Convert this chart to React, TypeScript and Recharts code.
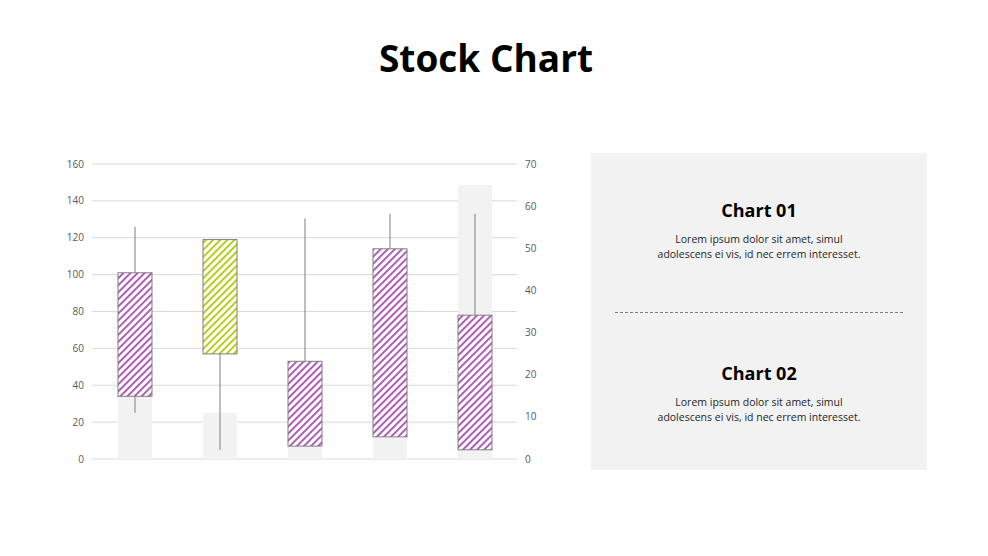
import { ComposedChart, Bar, XAxis, YAxis, CartesianGrid } from "recharts";

const days = ["1", "2", "3", "4", "5"];
const volume = [15, 11, 3, 5, 65];
const open = [101, 57, 53, 114, 78];
const high = [126, 119, 130.5, 133, 133];
const low = [25, 5, 7, 12, 5];
const close = [34, 119, 7, 12, 5];

const leftTicks = [0, 20, 40, 60, 80, 100, 120, 140, 160];
const rightTicks = [0, 10, 20, 30, 40, 50, 60, 70];

const chartData = days.map((day, i) => ({
  day,
  volume: volume[i],
  open: open[i],
  high: high[i],
  low: low[i],
  close: close[i],
  range: [low[i], high[i]],
}));

const Candle = (props: any) => {
  const { x, y, width, height, payload } = props;
  const { open, close, high, low } = payload;
  const toY = (v: number) => y + ((high - v) / (high - low)) * height;
  const cx = x + width / 2;
  const top = toY(Math.max(open, close));
  const bottom = toY(Math.min(open, close));
  const up = close >= open;
  return (
    <g>
      <line x1={cx} x2={cx} y1={y} y2={y + height} stroke="#7f7f7f" strokeWidth={1} />
      <rect x={x} y={top} width={width} height={bottom - top} fill="#fff" />
      <rect
        x={x}
        y={top}
        width={width}
        height={bottom - top}
        fill={up ? "url(#hatchUp)" : "url(#hatchDown)"}
        stroke="#7f7f7f"
        strokeWidth={1}
      />
    </g>
  );
};

const tickStyle = { fill: "#595959", fontSize: 10, fontFamily: "'Open Sans', sans-serif" };

const App = () => {
  return (
    <div style={{ position: "absolute", left: 0, top: 0, width: 988, height: 556, background: "#fff", fontFamily: "'Open Sans', sans-serif" }}>
      <div style={{ position: "absolute", left: 0, top: 32, width: 972, textAlign: "center", fontSize: 37, fontWeight: 700, color: "#000" }}>
        Stock Chart
      </div>

      <div style={{ position: "absolute", left: 40, top: 150 }}>
        <ComposedChart width={520} height={320} data={chartData} margin={{ top: 14, right: 13, bottom: 11, left: 0 }}>
          <defs>
            <pattern id="hatchDown" width="5" height="5" patternUnits="userSpaceOnUse" patternTransform="rotate(45)">
              <rect width="5" height="5" fill="#fff" />
              <rect width="2" height="5" fill="#b05cb8" />
            </pattern>
            <pattern id="hatchUp" width="5" height="5" patternUnits="userSpaceOnUse" patternTransform="rotate(45)">
              <rect width="5" height="5" fill="#fff" />
              <rect width="2" height="5" fill="#b4cf1c" />
            </pattern>
          </defs>
          <CartesianGrid yAxisId="left" vertical={false} stroke="#d9d9d9" />
          <XAxis xAxisId="vol" dataKey="day" hide />
          <XAxis xAxisId="candle" dataKey="day" hide />
          <YAxis
            yAxisId="left"
            orientation="left"
            domain={[0, 160]}
            ticks={leftTicks}
            width={52}
            axisLine={false}
            tickLine={false}
            tick={tickStyle}
          />
          <YAxis
            yAxisId="right"
            orientation="right"
            domain={[0, 70]}
            ticks={rightTicks}
            width={30}
            axisLine={false}
            tickLine={false}
            tick={{ ...tickStyle, textAnchor: "start" }}
          />
          <Bar xAxisId="vol" yAxisId="right" dataKey="volume" fill="#f2f2f2" barSize={34} isAnimationActive={false} />
          <Bar xAxisId="candle" yAxisId="left" dataKey="range" barSize={34} shape={Candle} isAnimationActive={false} />
        </ComposedChart>
      </div>

      <div style={{ position: "absolute", left: 591, top: 153, width: 336, height: 317, background: "#f2f2f2", color: "#000", textAlign: "center" }}>
        <div style={{ position: "absolute", top: 45, width: "100%", fontSize: 18, fontWeight: 700 }}>Chart 01</div>
        <div style={{ position: "absolute", top: 79, width: "100%", fontSize: 10.5, lineHeight: "15px", color: "#262626" }}>
          Lorem ipsum dolor sit amet, simul
          <br />
          adolescens ei vis, id nec errem interesset.
        </div>
        <div style={{ position: "absolute", left: 24, top: 159, width: 288, borderTop: "1px dashed #7f7f7f" }} />
        <div style={{ position: "absolute", top: 208, width: "100%", fontSize: 18, fontWeight: 700 }}>Chart 02</div>
        <div style={{ position: "absolute", top: 242, width: "100%", fontSize: 10.5, lineHeight: "15px", color: "#262626" }}>
          Lorem ipsum dolor sit amet, simul
          <br />
          adolescens ei vis, id nec errem interesset.
        </div>
      </div>
    </div>
  );
};

export default App;
